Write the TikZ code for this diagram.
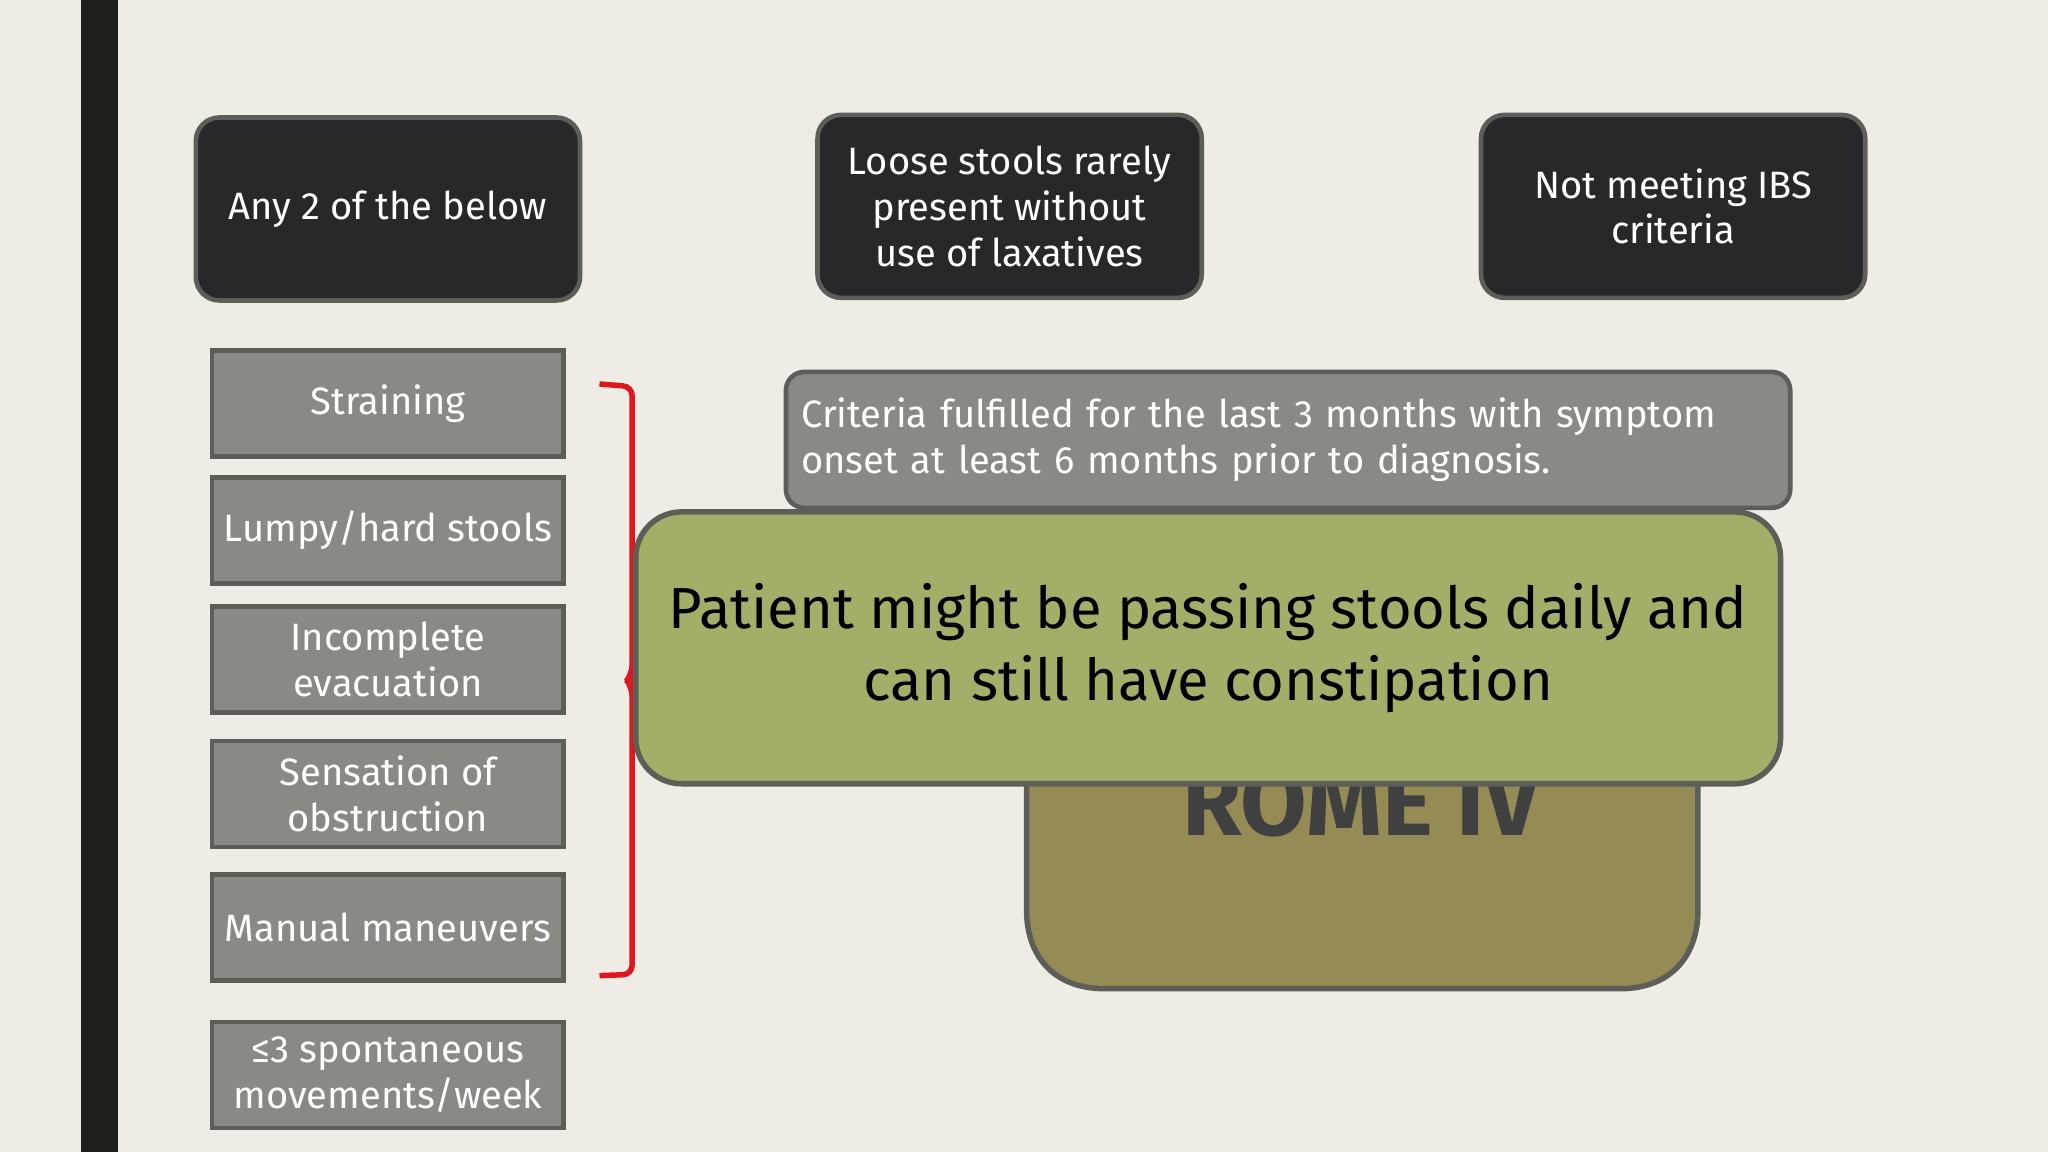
\documentclass[tikz,border=0pt]{standalone}
\usepackage{fontspec}
\setmainfont{Fira Sans}
\definecolor{bg}{HTML}{EFECE6}
\definecolor{bar}{HTML}{1E1E1A}
\definecolor{darkbox}{HTML}{28282B}
\definecolor{edge}{HTML}{5E5E58}
\definecolor{graybox}{HTML}{8A8A84}
\definecolor{olive}{HTML}{948B55}
\definecolor{greenbox}{HTML}{A3AF68}
\definecolor{redb}{HTML}{E0161E}
\tikzset{
 darkb/.style={draw=edge,line width=1pt,fill=darkbox,rounded corners=0.18cm,text=white,align=center,minimum width=2.94cm,minimum height=1.4cm,font=\fontsize{8.3}{10}\selectfont},
 grayb/.style={draw=edge,line width=1pt,fill=graybox,text=white,align=center,minimum width=2.69cm,minimum height=0.81cm,font=\fontsize{8.3}{10}\selectfont,inner sep=1pt},
}
\begin{document}
\begin{tikzpicture}[x=0.01cm,y=-0.01cm]
\useasboundingbox (0,0) rectangle (1568,882);
\fill[bg] (0,0) rectangle (1568,882);
\fill[bar] (62,0) rectangle (90,882);
\node[darkb] (a) at (297,160) {Any 2 of the below};
\node[darkb] (b) at (773,158) {Loose stools rarely\\present without\\use of laxatives};
\node[darkb] (c) at (1281,158) {Not meeting IBS\\criteria};
\node[grayb] (s1) at (297,309) {Straining};
\node[grayb] (s2) at (297,406) {Lumpy/hard stools};
\node[grayb] (s3) at (297,505) {Incomplete\\evacuation};
\node[grayb] (s4) at (297,608) {Sensation of\\obstruction};
\node[grayb] (s5) at (297,710) {Manual maneuvers};
\node[grayb] (s6) at (297,823) {≤3 spontaneous\\movements/week};
\draw[redb,line width=1.2pt,rounded corners=2pt] (459,294) -- (484,296) -- (484,516) -- (480,521) -- (484,526) -- (484,746) -- (459,747);
\node[draw=edge,line width=1pt,fill=graybox,rounded corners=0.14cm,text=white,align=left,text width=7.45cm,minimum height=1.04cm,anchor=north west,font=\fontsize{8.3}{10}\selectfont] (crit) at (600,283) {Criteria fulfilled for the last 3 months with symptom\\onset at least 6 months prior to diagnosis.};
\filldraw[draw=edge,line width=1.2pt,fill=olive] (786,540) -- (786,697) .. controls (786,730) and (805,757) .. (846,757) -- (1240,757) .. controls (1281,757) and (1300,730) .. (1300,697) -- (1300,540) -- cycle;
\node[font=\bfseries\fontsize{21}{23}\selectfont,text=black!75] (rome) at (1042,614) {ROME IV};
\node[draw=edge,line width=1.2pt,fill=greenbox,rounded corners=0.35cm,minimum width=8.76cm,minimum height=2.08cm,inner sep=1pt,align=center,font=\fontsize{12.6}{15.6}\selectfont] (green) at (925,496) {Patient might be passing stools daily and\\can still have constipation};
\end{tikzpicture}
\end{document}
